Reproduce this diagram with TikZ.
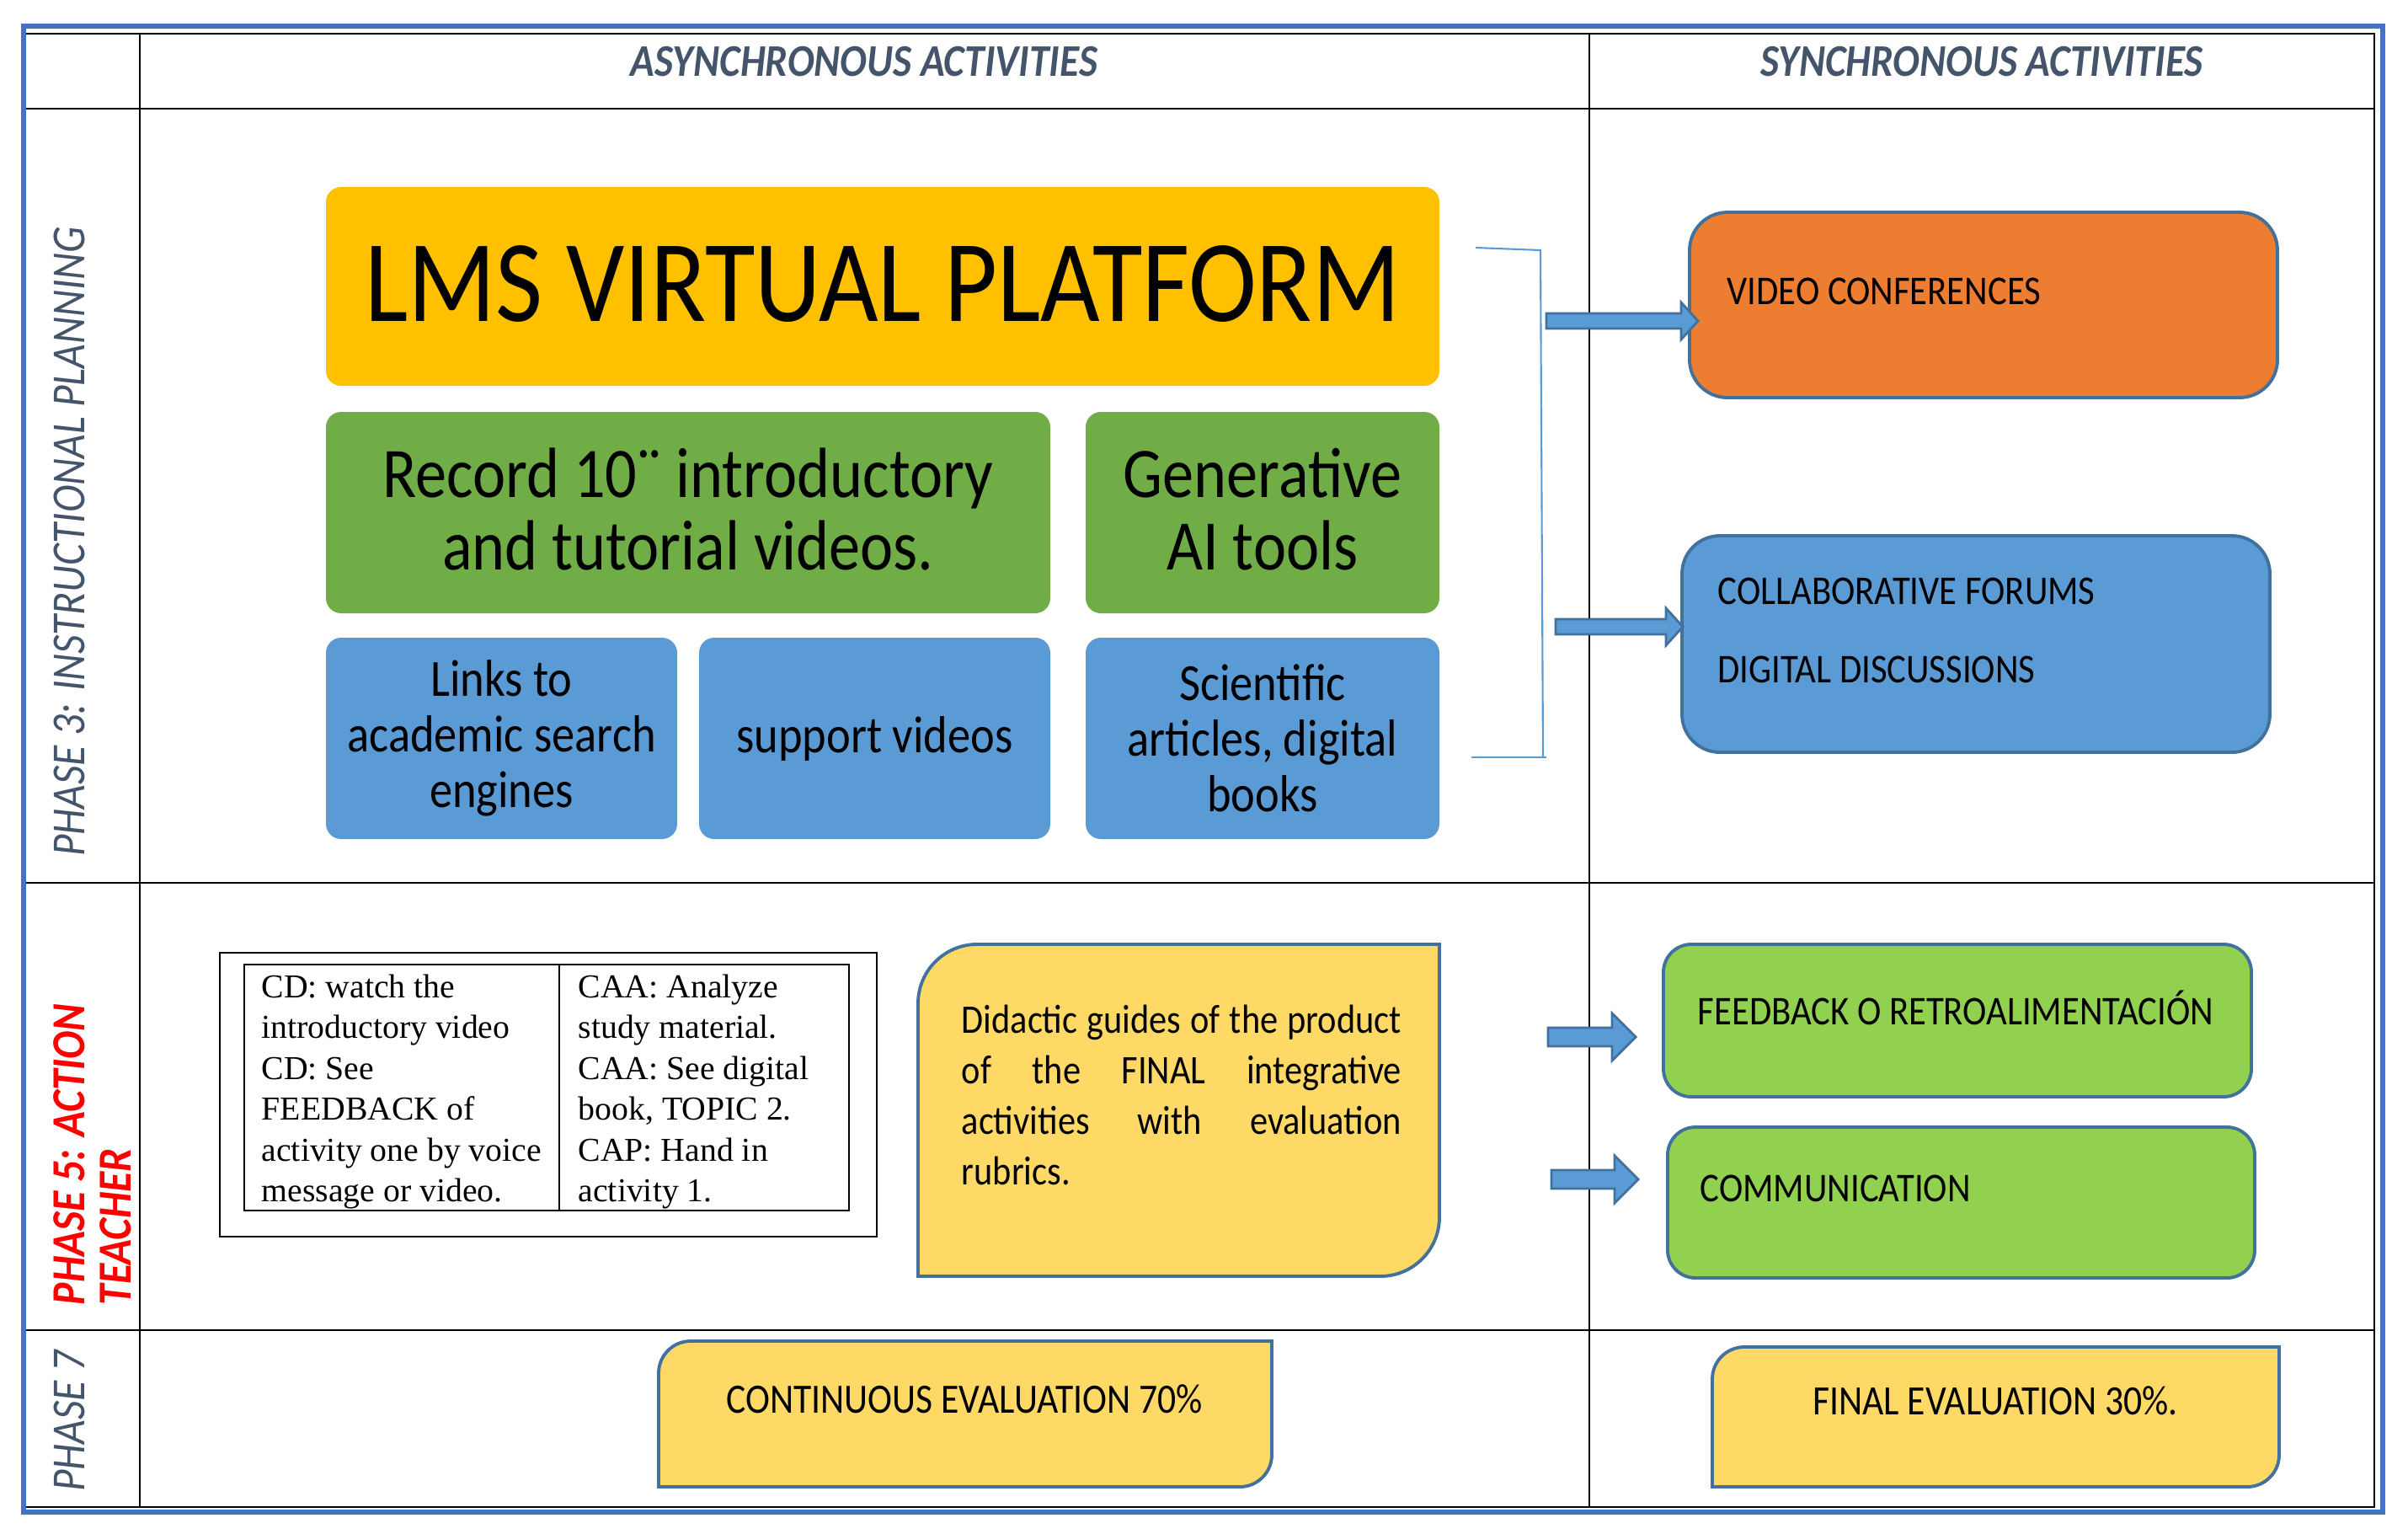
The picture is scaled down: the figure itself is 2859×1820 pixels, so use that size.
\documentclass[tikz,border=0pt]{standalone}
\usepackage{fontspec}
\setmainfont{Carlito}[FakeStretch=0.88]
\newfontfamily\tnr{Liberation Serif}
\usetikzlibrary{fit,calc}
\definecolor{slate}{HTML}{44546A}
\definecolor{lmsor}{HTML}{FFC000}
\definecolor{grn}{HTML}{70AD47}
\definecolor{blu}{HTML}{5B9BD5}
\definecolor{org}{HTML}{ED7D31}
\definecolor{yel}{HTML}{FFD966}
\definecolor{lgrn}{HTML}{92D050}
\definecolor{bord}{HTML}{41719C}
\definecolor{frame}{HTML}{4472C4}
\newcommand\fsz[2]{\fontsize{#1pt}{#2pt}\selectfont}
\newcommand\blockarrow[5]{%
  \draw[barr] let \p1=(#1), \p2=(#2) in
    (\x1,{\y1+#3*0.01cm}) -- ({\x2-#5*0.01cm},{\y1+#3*0.01cm}) --
    ({\x2-#5*0.01cm},{\y1+#4*0.01cm}) -- (\x2,\y1) --
    ({\x2-#5*0.01cm},{\y1-#4*0.01cm}) -- ({\x2-#5*0.01cm},{\y1-#3*0.01cm}) --
    (\x1,{\y1-#3*0.01cm}) -- cycle;}
\begin{document}
\begin{tikzpicture}[x=0.01cm,y=-0.01cm,
  tbl/.style={line width=0.7pt, black},
  pbox/.style={rounded corners=0.18cm, inner sep=0, align=center},
  rbox/.style={draw=bord, line width=1.1pt, inner sep=0},
  barr/.style={fill=blu, draw=bord, line width=0.8pt},
  brk/.style={draw=blu, line width=0.6pt},
  txt/.style={inner sep=0},
  hdr/.style={inner sep=0, text=slate, font=\fsz{15.3}{17}\bfseries\itshape},
  plab/.style={inner sep=0, rotate=90, text=slate, font=\fsz{16}{16}\itshape},
  mid/.style={inner sep=0, font=\fsz{13.8}{17}},
]
\useasboundingbox (0,0) rectangle (2859,1820);
\fill[white] (0,0) rectangle (2859,1820);

% table grid
\draw[tbl] (28,40) rectangle (2819,1789);
\draw[tbl] (28,129) -- (2819,129);
\draw[tbl] (28,1048) -- (2819,1048);
\draw[tbl] (28,1579) -- (2819,1579);
\draw[tbl] (166,40) -- (166,1789);
\draw[tbl] (1887,40) -- (1887,1789);
% outer frame
\draw[frame, line width=1.7pt] (28,31) rectangle (2829,1795);

% headers
\node[hdr] (hasync) at (1026,73) {ASYNCHRONOUS ACTIVITIES};
\node[hdr] (hsync) at (2353,73) {SYNCHRONOUS ACTIVITIES};

% phase labels
\node[plab] (p3) at (82,643) {PHASE 3: INSTRUCTIONAL PLANNING};
\node[inner sep=0, rotate=90, anchor=west, align=left, text=red,
      font=\fsz{16}{15.7}\bfseries\itshape] (p5) at (110,1550) {PHASE 5: ACTION\\TEACHER};
\node[plab] (p7) at (82,1687) {PHASE 7};

% row 1 asynchronous
\node[pbox, fill=lmsor, fit={(387,222) (1709,458)}] (lms) {};
\node[txt, font=\fsz{39.4}{42}] (lmst) at ($(lms.center)+(0,-3)$) {LMS VIRTUAL PLATFORM};
\node[pbox, fill=grn, fit={(387,489) (1247,728)}] (rec) {};
\node[txt, align=center, font=\fsz{24}{24.5}] (rect) at ($(rec.center)+(0,-4)$) {Record 10¨ introductory\\and tutorial videos.};
\node[pbox, fill=grn, fit={(1289,489) (1709,728)}] (gen) {};
\node[txt, align=center, font=\fsz{24}{24.5}] (gent) at ($(gen.center)+(0,-4)$) {Generative\\AI tools};
\node[pbox, fill=blu, fit={(387,757) (804,996)}] (lnk) {};
\node[txt, align=center, font=\fsz{17.6}{18.7}] (lnkt) at (lnk.center) {Links to\\academic search\\engines};
\node[pbox, fill=blu, fit={(830,757) (1247,996)}] (sup) {};
\node[txt, align=center, font=\fsz{17.6}{18.7}] (supt) at (sup.center) {support videos};
\node[pbox, fill=blu, fit={(1289,757) (1709,996)}] (sci) {};
\node[txt, align=center, font=\fsz{17.6}{18.7}] (scit) at (sci.center) {Scientific\\articles, digital\\books};

% bracket
\coordinate (b1) at (1752,294);
\coordinate (b2) at (1829,297);
\coordinate (b3) at (1832,899);
\coordinate (b4) at (1747,899);
\coordinate (b5) at (1836,899);
\draw[brk] (b1) -- (b2) -- (b3);
\draw[brk] (b4) -- (b5);

% row 1 synchronous
\node[rbox, fill=org, rounded corners=0.45cm, fit={(2006,252) (2704,472)}] (vc) {};
\node[mid, anchor=west] (vct) at (2050,346) {VIDEO CONFERENCES};
\node[rbox, fill=blu, rounded corners=0.45cm, fit={(1997,636) (2695,893)}] (cf) {};
\node[mid, anchor=west] (cft1) at (2039,702) {COLLABORATIVE FORUMS};
\node[mid, anchor=west] (cft2) at (2039,795) {DIGITAL DISCUSSIONS};

% arrows row 1
\coordinate (a1s) at (1836,381);
\coordinate (a1e) at ($(a1s -| vc.west)+(12,0)$);
\blockarrow{a1s}{a1e}{9}{22}{20}
\coordinate (a2s) at (1847,744);
\coordinate (a2e) at ($(a2s -| cf.west)+(3,0)$);
\blockarrow{a2s}{a2e}{9}{22}{20}

% row 2: activities table
\draw[black, line width=0.7pt] (261,1131) rectangle (1041,1468);
\node[draw=black, line width=0.7pt, inner sep=0, fit={(290,1145) (1008,1437)}] (acttab) {};
\draw[black, line width=0.7pt] (664,1145) -- (664,1437);
\node[inner sep=0, anchor=north west, align=left, font=\tnr\fsz{11.3}{13.8}] (cdt) at (310,1156)
  {CD: watch the\\introductory video\\CD: See\\FEEDBACK of\\activity one by voice\\message or video.};
\node[inner sep=0, anchor=north west, align=left, font=\tnr\fsz{11.3}{13.8}] (caat) at (686,1156)
  {CAA: Analyze\\study material.\\CAA: See digital\\book, TOPIC 2.\\CAP: Hand in\\activity 1.};

% didactic box
\draw[fill=yel, draw=bord, line width=1.1pt] (1090,1515) -- (1090,1191)
  .. controls (1090,1152.4) and (1121.4,1121) .. (1160,1121) -- (1709,1121) -- (1709,1445)
  .. controls (1709,1483.6) and (1677.6,1515) .. (1639,1515) -- cycle;
\node[inner sep=0, anchor=north west, align=left, font=\fsz{13.7}{17.07}] (didt) at (1141,1192)
  {\makebox[5.22cm][s]{Didactic guides of the product}\\
   \makebox[5.22cm][s]{of the FINAL integrative}\\
   \makebox[5.22cm][s]{activities with evaluation}\\
   rubrics.};

% row 2 synchronous
\node[rbox, fill=lgrn, rounded corners=0.33cm, fit={(1975,1121) (2673,1302)}] (fb) {};
\node[mid, anchor=west] (fbt) at (2015,1196) {FEEDBACK O RETROALIMENTACIÓN};
\node[rbox, fill=lgrn, rounded corners=0.33cm, fit={(1980,1338) (2677,1517)}] (com) {};
\node[mid, anchor=west] (comt) at (2018,1411) {COMMUNICATION};

\coordinate (a3s) at (1838,1231);
\coordinate (a3e) at ($(a3s -| fb.west)+(-31,0)$);
\blockarrow{a3s}{a3e}{11}{28}{28}
\coordinate (a4s) at (1842,1400);
\coordinate (a4e) at ($(a4s -| com.west)+(-33,0)$);
\blockarrow{a4s}{a4e}{11}{28}{28}

% row 3
\draw[fill=yel, draw=bord, line width=1.1pt] (782,1765) -- (782,1630)
  .. controls (782,1609) and (799,1592) .. (820,1592) -- (1510,1592) -- (1510,1727)
  .. controls (1510,1748) and (1493,1765) .. (1472,1765) -- cycle;
\node[mid, font=\fsz{14.1}{17}] (contt) at (1145,1661) {CONTINUOUS EVALUATION 70\%};
\draw[fill=yel, draw=bord, line width=1.1pt] (2033,1765) -- (2033,1637)
  .. controls (2033,1616) and (2050,1599) .. (2071,1599) -- (2706,1599) -- (2706,1727)
  .. controls (2706,1748) and (2689,1765) .. (2668,1765) -- cycle;
\node[mid, font=\fsz{14.1}{17}] (fint) at (2369,1663) {FINAL EVALUATION 30\%.};
\end{tikzpicture}
\end{document}
